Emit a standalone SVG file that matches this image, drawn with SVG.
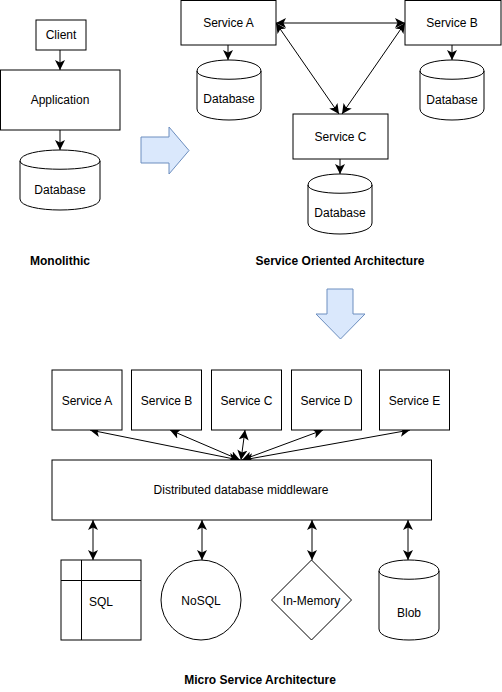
<svg xmlns="http://www.w3.org/2000/svg" width="502" height="692" viewBox="0 0 502 692">
<style>
.n{fill:#fff;stroke:#000;stroke-width:1}
.t{font-family:"Liberation Sans",Arial,sans-serif;font-size:12px;fill:#000;text-anchor:middle}
.b{font-weight:bold}
.c line{stroke:#000;stroke-width:1;fill:none}
.e{marker-end:url(#ah)}
.d{marker-start:url(#ah);marker-end:url(#ah)}
.big{fill:#dae8fc;stroke:#6c8ebf;stroke-width:1}
</style>
<defs>
<marker id="ah" markerUnits="userSpaceOnUse" markerWidth="10" markerHeight="10" viewBox="0 0 8 8" refX="8" refY="4" orient="auto-start-reverse">
<path d="M0,0 L8,4 L0,8 L2,4 Z" fill="#000"/>
</marker>
</defs>
<rect width="502" height="692" fill="#fff"/>

<g id="connectors" class="c">
<line class="e" x1="60" y1="50" x2="60" y2="70"/>
<line class="e" x1="60" y1="130" x2="60" y2="150"/>
<line class="e" x1="228" y1="45" x2="228" y2="60"/>
<line class="e" x1="452" y1="45" x2="452" y2="60"/>
<line class="e" x1="340" y1="159" x2="340" y2="174"/>
<line class="d" x1="276" y1="23" x2="405" y2="23"/>
<line class="d" x1="276" y1="23" x2="339" y2="114"/>
<line class="d" x1="405" y1="23" x2="342" y2="114"/>
<line class="d" x1="90" y1="430" x2="239" y2="460"/>
<line class="d" x1="170" y1="430" x2="240" y2="460"/>
<line class="d" x1="245" y1="430" x2="241" y2="460"/>
<line class="d" x1="323" y1="430" x2="242" y2="460"/>
<line class="d" x1="410" y1="430" x2="243" y2="460"/>
<line class="d" x1="93" y1="520" x2="93" y2="560"/>
<line class="d" x1="202" y1="520" x2="202" y2="560"/>
<line class="d" x1="312" y1="520" x2="312" y2="560"/>
<line class="d" x1="408" y1="520" x2="408" y2="560"/>
</g>

<g id="mono-client"><rect class="n" x="36" y="20" width="50" height="30"/><text class="t" x="61" y="39">Client</text></g>
<g id="mono-app"><rect class="n" x="0.5" y="70" width="119.5" height="60"/><text class="t" x="60" y="104">Application</text></g>
<g id="mono-db"><path class="n" d="M20,161 C20,146.33 100,146.33 100,161 L100,199 C100,213.67 20,213.67 20,199 Z M20,161 C20,172 100,172 100,161"/><text class="t" x="60" y="194">Database</text></g>

<g id="arrow-right"><polygon class="big" points="141,137 169,137 169,127 189,150.5 169,174 169,163 141,163"/></g>

<g id="soa-a"><rect class="n" x="181" y="0.5" width="95" height="44.5"/><text class="t" x="228.5" y="27">Service A</text></g>
<g id="soa-b"><rect class="n" x="405" y="0.5" width="96" height="44.5"/><text class="t" x="452" y="27">Service B</text></g>
<g id="soa-c"><rect class="n" x="293" y="114" width="95" height="45"/><text class="t" x="340.5" y="141">Service C</text></g>
<g id="soa-db-a"><path class="n" d="M197,71 C197,56.33 261,56.33 261,71 L261,109 C261,123.67 197,123.67 197,109 Z M197,71 C197,82 261,82 261,71"/><text class="t" x="229" y="103">Database</text></g>
<g id="soa-db-b"><path class="n" d="M420,71 C420,56.33 484,56.33 484,71 L484,109 C484,123.67 420,123.67 420,109 Z M420,71 C420,82 484,82 484,71"/><text class="t" x="452" y="104">Database</text></g>
<g id="soa-db-c"><path class="n" d="M308,185 C308,170.33 372,170.33 372,185 L372,223 C372,237.67 308,237.67 308,223 Z M308,185 C308,196 372,196 372,185"/><text class="t" x="340" y="217">Database</text></g>

<g id="label-mono"><text class="t b" x="60" y="265">Monolithic</text></g>
<g id="label-soa"><text class="t b" x="340" y="265">Service Oriented Architecture</text></g>

<g id="arrow-down"><polygon class="big" points="327,289 353,289 353,314 365,314 340.5,339 316,314 327,314"/></g>

<g id="ms-a"><rect class="n" x="52" y="370" width="70" height="60"/><text class="t" x="87" y="405">Service A</text></g>
<g id="ms-b"><rect class="n" x="131.5" y="370" width="70" height="60"/><text class="t" x="166.5" y="405">Service B</text></g>
<g id="ms-c"><rect class="n" x="211.5" y="370" width="70" height="60"/><text class="t" x="246.5" y="405">Service C</text></g>
<g id="ms-d"><rect class="n" x="291.5" y="370" width="70" height="60"/><text class="t" x="326.5" y="405">Service D</text></g>
<g id="ms-e"><rect class="n" x="379.5" y="370" width="70" height="60"/><text class="t" x="414.5" y="405">Service E</text></g>

<g id="middleware"><rect class="n" x="52" y="460" width="379.5" height="60"/><text class="t" x="241" y="494">Distributed database middleware</text></g>

<g id="sql"><rect class="n" x="61" y="560" width="80" height="80"/><line x1="61" y1="580.5" x2="141" y2="580.5" stroke="#000"/><line x1="81.5" y1="560" x2="81.5" y2="640" stroke="#000"/><text class="t" x="101" y="606">SQL</text></g>
<g id="nosql"><circle class="n" cx="201" cy="600" r="40"/><text class="t" x="201" y="605">NoSQL</text></g>
<g id="inmemory"><polygon class="n" points="311.5,560 351.5,600 311.5,640 271.5,600"/><text class="t" x="311.5" y="605">In-Memory</text></g>
<g id="blob"><path class="n" d="M379,571 C379,556.33 439,556.33 439,571 L439,629 C439,643.67 379,643.67 379,629 Z M379,571 C379,582 439,582 439,571"/><text class="t" x="409" y="617">Blob</text></g>

<g id="label-micro"><text class="t b" x="260" y="684">Micro Service Architecture</text></g>
</svg>
